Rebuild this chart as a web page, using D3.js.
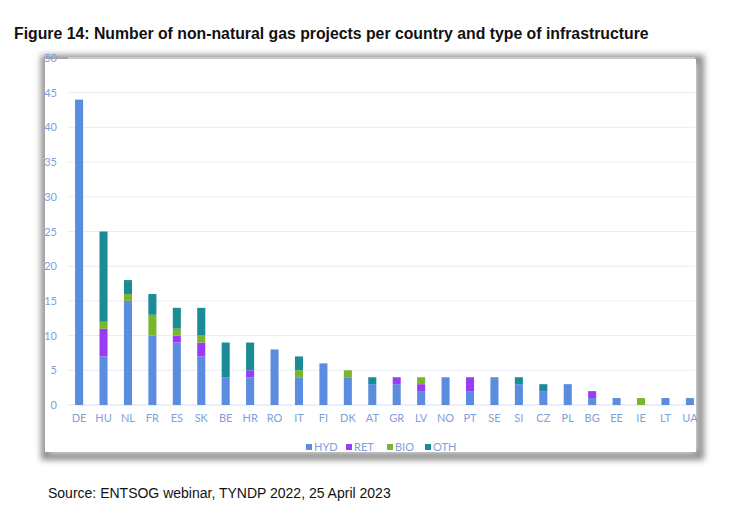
<!DOCTYPE html>
<html>
<head>
<meta charset="utf-8">
<script src="https://cdn.jsdelivr.net/npm/d3@7"></script>
<style>
  body { margin: 0; background: #fff; }
  svg { display: block; }
</style>
</head>
<body>
<svg id="chart" width="745" height="508"></svg>
<script>
// values
const countries = ["DE","HU","NL","FR","ES","SK","BE","HR","RO","IT","FI","DK","AT","GR","LV","NO","PT","SE","SI","CZ","PL","BG","EE","IE","LT","UA"];
const types = ["HYD","RET","BIO","OTH"];
const hyd = [44,7,15,10,9,7,4,4,8,4,6,4,3,3,2,4,2,4,3,2,3,1,1,0,1,1];
const ret = [0,4,0,0,1,2,0,1,0,0,0,0,0,1,1,0,2,0,0,0,0,1,0,0,0,0];
const bio = [0,1,1,3,1,1,0,0,0,1,0,1,0,0,1,0,0,0,0,0,0,0,0,1,0,0];
const oth = [0,13,2,3,3,4,5,4,0,2,0,0,1,0,0,0,0,0,1,1,0,0,0,0,0,0];
const yTicks = [0,5,10,15,20,25,30,35,40,45,50];

const colors = { HYD: "#5b8ce0", RET: "#9b3cf5", BIO: "#7ab62c", OTH: "#1b8b96" };
const labelColor = "#7f9fd9";

const rows = countries.map((c, i) => ({ country: c, HYD: hyd[i], RET: ret[i], BIO: bio[i], OTH: oth[i] }));

const svg = d3.select("#chart");

// title
svg.append("text")
    .attr("x", 14).attr("y", 39)
    .attr("font-family", "Liberation Sans, Arial, sans-serif")
    .attr("font-weight", "bold")
    .attr("font-size", 15.8)
    .attr("fill", "#111")
    .text("Figure 14: Number of non-natural gas projects per country and type of infrastructure");

// framed panel with blurred grey border and shadow
const defs = svg.append("defs");
defs.append("filter").attr("id", "blur")
    .attr("x", "-10%").attr("y", "-10%").attr("width", "120%").attr("height", "120%")
    .append("feGaussianBlur").attr("stdDeviation", 3);

svg.append("rect")
    .attr("x", 45).attr("y", 59).attr("width", 655).attr("height", 397)
    .attr("fill", "none")
    .attr("stroke", "#8c8c8c")
    .attr("stroke-width", 8)
    .attr("filter", "url(#blur)");
svg.append("rect")
    .attr("x", 45).attr("y", 59).attr("width", 651).attr("height", 393)
    .attr("fill", "#fff");

const x = d3.scaleBand()
    .domain(countries)
    .range([67, 702])
    .paddingInner(0.67)
    .paddingOuter(0.33);

const y = d3.scaleLinear()
    .domain([0, 50])
    .range([405, 58]);

// gridlines
svg.append("g")
    .selectAll("line")
    .data(yTicks)
    .join("line")
    .attr("x1", 68).attr("x2", 695)
    .attr("y1", d => y(d)).attr("y2", d => y(d))
    .attr("stroke", d => d === 0 ? "#d5e0f3" : "#e6edf9")
    .attr("stroke-width", 1);

// y axis labels
const yAxis = svg.append("g")
    .attr("transform", "translate(57,0)")
    .call(d3.axisLeft(y).tickValues(yTicks).tickSize(0).tickPadding(0));
yAxis.select(".domain").remove();
yAxis.selectAll("text")
    .attr("fill", labelColor)
    .attr("font-family", "Lato, sans-serif")
    .attr("font-size", 11);

// stacked bars
const stack = d3.stack().keys(types);
const series = stack(rows);

svg.append("g")
    .selectAll("g")
    .data(series)
    .join("g")
    .attr("fill", d => colors[d.key])
    .selectAll("rect")
    .data(d => d)
    .join("rect")
    .attr("x", d => x(d.data.country))
    .attr("width", x.bandwidth())
    .attr("y", d => y(d[1]))
    .attr("height", d => y(d[0]) - y(d[1]));

// x axis labels
const xAxis = svg.append("g")
    .attr("transform", "translate(0,414)")
    .call(d3.axisBottom(x).tickSize(0).tickPadding(0));
xAxis.select(".domain").remove();
xAxis.selectAll("text")
    .attr("fill", labelColor)
    .attr("font-family", "Lato, sans-serif")
    .attr("font-size", 11);

// legend
const legendX = [306, 346, 387, 425];
const legend = svg.append("g")
    .selectAll("g")
    .data(types)
    .join("g")
    .attr("transform", (d, i) => `translate(${legendX[i]},447)`);
legend.append("rect")
    .attr("x", 0).attr("y", -3)
    .attr("width", 6).attr("height", 6)
    .attr("fill", d => colors[d]);
legend.append("text")
    .attr("x", 8).attr("y", 4)
    .attr("fill", labelColor)
    .attr("font-family", "Lato, sans-serif")
    .attr("font-size", 11)
    .text(d => d);

// source
svg.append("text")
    .attr("x", 48).attr("y", 498)
    .attr("font-family", "Liberation Sans, Arial, sans-serif")
    .attr("font-size", 14)
    .attr("fill", "#111")
    .text("Source: ENTSOG webinar, TYNDP 2022, 25 April 2023");
</script>
</body>
</html>
